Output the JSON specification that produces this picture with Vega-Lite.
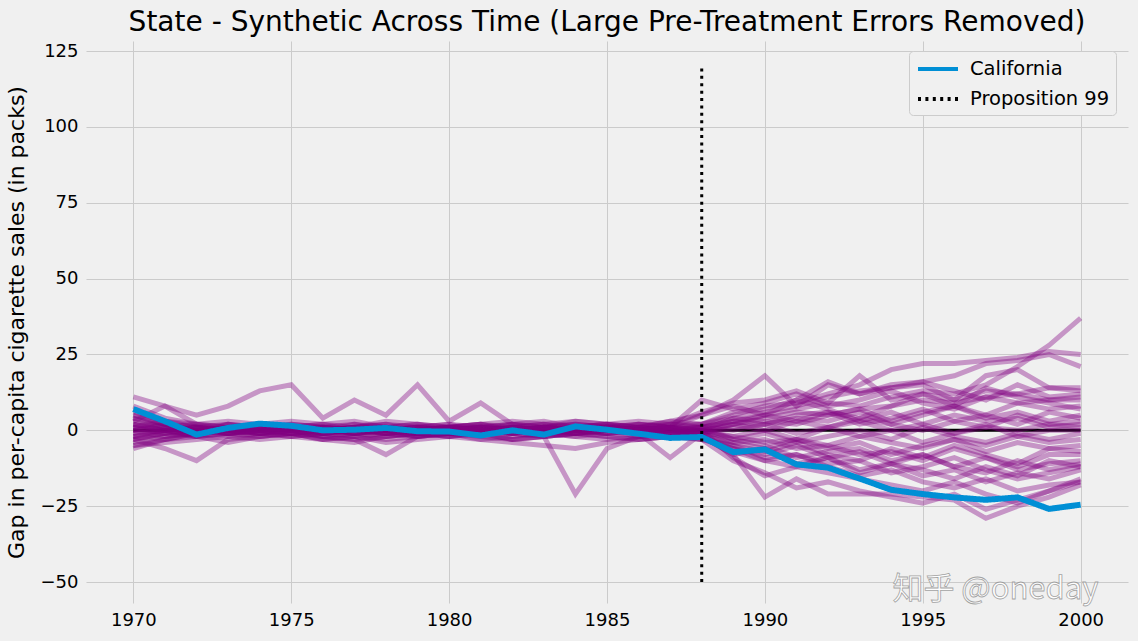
{
"$schema":"https://vega.github.io/schema/vega-lite/v6.json",
"width":1042,"height":562,
"autosize":{"type":"none"},
"padding":{"left":86,"top":41,"right":10,"bottom":38},
"background":"#f0f0f0",
"config":{"view":{"stroke":null},"font":"DejaVu Sans",
"axis":{"domain":false,"ticks":false,"gridColor":"#cbcbcb","gridWidth":1,"labelFont":"DejaVu Sans","labelFontSize":18,"labelColor":"#000000","labelPadding":8,"titleFont":"DejaVu Sans","titleFontSize":22,"titleFontWeight":"normal","titleColor":"#000000"},
"legend":{"orient":"none","legendX":823,"legendY":10,"fillColor":"#f0f0f0","strokeColor":"#cccccc","padding":6,"cornerRadius":4,"labelFont":"DejaVu Sans","labelFontSize":19.5,"labelColor":"#000000","symbolType":"M-0.9,0H3.1","symbolSize":400,"symbolStrokeWidth":4,"rowPadding":8,"labelOffset":31}},
"title":{"text":"State - Synthetic Across Time (Large Pre-Treatment Errors Removed)","font":"DejaVu Sans","fontSize":28,"fontWeight":"normal","color":"#000000","anchor":"middle","offset":4},
"datasets":{
"ca":[
{"lab":"California","t":1970,"g":7},{"lab":"California","t":1971,"g":3},{"lab":"California","t":1972,"g":-1.4},{"lab":"California","t":1973,"g":0.8},{"lab":"California","t":1974,"g":2.2},{"lab":"California","t":1975,"g":1.5},{"lab":"California","t":1976,"g":0},{"lab":"California","t":1977,"g":0.2},{"lab":"California","t":1978,"g":0.8},{"lab":"California","t":1979,"g":-0.3},{"lab":"California","t":1980,"g":-0.4},{"lab":"California","t":1981,"g":-1.7},{"lab":"California","t":1982,"g":0},{"lab":"California","t":1983,"g":-1.4},{"lab":"California","t":1984,"g":1.3},{"lab":"California","t":1985,"g":0.2},{"lab":"California","t":1986,"g":-1.1},{"lab":"California","t":1987,"g":-2.5},{"lab":"California","t":1988,"g":-2.2},{"lab":"California","t":1989,"g":-7.2},{"lab":"California","t":1990,"g":-6.3},{"lab":"California","t":1991,"g":-11.2},{"lab":"California","t":1992,"g":-12.3},{"lab":"California","t":1993,"g":-15.9},{"lab":"California","t":1994,"g":-19.6},{"lab":"California","t":1995,"g":-21},{"lab":"California","t":1996,"g":-22.1},{"lab":"California","t":1997,"g":-22.9},{"lab":"California","t":1998,"g":-22.1},{"lab":"California","t":1999,"g":-25.9},{"lab":"California","t":2000,"g":-24.5}
],
"pl":[
{"u":1,"t":1970,"g":3},{"u":1,"t":1971,"g":1},{"u":1,"t":1972,"g":-1},{"u":1,"t":1973,"g":2},{"u":1,"t":1974,"g":1},{"u":1,"t":1975,"g":0},{"u":1,"t":1976,"g":1},{"u":1,"t":1977,"g":-1},{"u":1,"t":1978,"g":0},{"u":1,"t":1979,"g":1},{"u":1,"t":1980,"g":0},{"u":1,"t":1981,"g":-1},{"u":1,"t":1982,"g":1},{"u":1,"t":1983,"g":0},{"u":1,"t":1984,"g":1},{"u":1,"t":1985,"g":2},{"u":1,"t":1986,"g":1},{"u":1,"t":1987,"g":0},{"u":1,"t":1988,"g":1},{"u":1,"t":1989,"g":3},{"u":1,"t":1990,"g":5},{"u":1,"t":1991,"g":7},{"u":1,"t":1992,"g":9},{"u":1,"t":1993,"g":8},{"u":1,"t":1994,"g":11},{"u":1,"t":1995,"g":13},{"u":1,"t":1996,"g":12},{"u":1,"t":1997,"g":15},{"u":1,"t":1998,"g":21},{"u":1,"t":1999,"g":28},{"u":1,"t":2000,"g":37},
{"u":2,"t":1970,"g":5},{"u":2,"t":1971,"g":2},{"u":2,"t":1972,"g":0},{"u":2,"t":1973,"g":1},{"u":2,"t":1974,"g":2},{"u":2,"t":1975,"g":1},{"u":2,"t":1976,"g":0},{"u":2,"t":1977,"g":1},{"u":2,"t":1978,"g":2},{"u":2,"t":1979,"g":0},{"u":2,"t":1980,"g":1},{"u":2,"t":1981,"g":2},{"u":2,"t":1982,"g":1},{"u":2,"t":1983,"g":2},{"u":2,"t":1984,"g":1},{"u":2,"t":1985,"g":0},{"u":2,"t":1986,"g":1},{"u":2,"t":1987,"g":2},{"u":2,"t":1988,"g":2},{"u":2,"t":1989,"g":5},{"u":2,"t":1990,"g":8},{"u":2,"t":1991,"g":9},{"u":2,"t":1992,"g":12},{"u":2,"t":1993,"g":15},{"u":2,"t":1994,"g":20},{"u":2,"t":1995,"g":22},{"u":2,"t":1996,"g":22},{"u":2,"t":1997,"g":23},{"u":2,"t":1998,"g":24},{"u":2,"t":1999,"g":26},{"u":2,"t":2000,"g":25},
{"u":3,"t":1970,"g":-2},{"u":3,"t":1971,"g":-1},{"u":3,"t":1972,"g":1},{"u":3,"t":1973,"g":0},{"u":3,"t":1974,"g":-1},{"u":3,"t":1975,"g":1},{"u":3,"t":1976,"g":2},{"u":3,"t":1977,"g":0},{"u":3,"t":1978,"g":-1},{"u":3,"t":1979,"g":0},{"u":3,"t":1980,"g":1},{"u":3,"t":1981,"g":0},{"u":3,"t":1982,"g":-1},{"u":3,"t":1983,"g":1},{"u":3,"t":1984,"g":0},{"u":3,"t":1985,"g":1},{"u":3,"t":1986,"g":0},{"u":3,"t":1987,"g":1},{"u":3,"t":1988,"g":0},{"u":3,"t":1989,"g":4},{"u":3,"t":1990,"g":6},{"u":3,"t":1991,"g":8},{"u":3,"t":1992,"g":11},{"u":3,"t":1993,"g":13},{"u":3,"t":1994,"g":14},{"u":3,"t":1995,"g":16},{"u":3,"t":1996,"g":18},{"u":3,"t":1997,"g":22},{"u":3,"t":1998,"g":23},{"u":3,"t":1999,"g":25},{"u":3,"t":2000,"g":21},
{"u":4,"t":1970,"g":8},{"u":4,"t":1971,"g":4},{"u":4,"t":1972,"g":2},{"u":4,"t":1973,"g":3},{"u":4,"t":1974,"g":2},{"u":4,"t":1975,"g":3},{"u":4,"t":1976,"g":2},{"u":4,"t":1977,"g":1},{"u":4,"t":1978,"g":3},{"u":4,"t":1979,"g":2},{"u":4,"t":1980,"g":1},{"u":4,"t":1981,"g":2},{"u":4,"t":1982,"g":3},{"u":4,"t":1983,"g":2},{"u":4,"t":1984,"g":3},{"u":4,"t":1985,"g":2},{"u":4,"t":1986,"g":1},{"u":4,"t":1987,"g":3},{"u":4,"t":1988,"g":5},{"u":4,"t":1989,"g":10},{"u":4,"t":1990,"g":18},{"u":4,"t":1991,"g":8},{"u":4,"t":1992,"g":15},{"u":4,"t":1993,"g":12},{"u":4,"t":1994,"g":14},{"u":4,"t":1995,"g":15},{"u":4,"t":1996,"g":10},{"u":4,"t":1997,"g":13},{"u":4,"t":1998,"g":12},{"u":4,"t":1999,"g":14},{"u":4,"t":2000,"g":14},
{"u":5,"t":1970,"g":1},{"u":5,"t":1971,"g":0},{"u":5,"t":1972,"g":-2},{"u":5,"t":1973,"g":1},{"u":5,"t":1974,"g":0},{"u":5,"t":1975,"g":-1},{"u":5,"t":1976,"g":0},{"u":5,"t":1977,"g":1},{"u":5,"t":1978,"g":-1},{"u":5,"t":1979,"g":0},{"u":5,"t":1980,"g":0},{"u":5,"t":1981,"g":1},{"u":5,"t":1982,"g":0},{"u":5,"t":1983,"g":-1},{"u":5,"t":1984,"g":1},{"u":5,"t":1985,"g":0},{"u":5,"t":1986,"g":-1},{"u":5,"t":1987,"g":0},{"u":5,"t":1988,"g":-1},{"u":5,"t":1989,"g":2},{"u":5,"t":1990,"g":4},{"u":5,"t":1991,"g":6},{"u":5,"t":1992,"g":5},{"u":5,"t":1993,"g":7},{"u":5,"t":1994,"g":8},{"u":5,"t":1995,"g":12},{"u":5,"t":1996,"g":10},{"u":5,"t":1997,"g":18},{"u":5,"t":1998,"g":20},{"u":5,"t":1999,"g":14},{"u":5,"t":2000,"g":13},
{"u":6,"t":1970,"g":11},{"u":6,"t":1971,"g":8},{"u":6,"t":1972,"g":5},{"u":6,"t":1973,"g":8},{"u":6,"t":1974,"g":13},{"u":6,"t":1975,"g":15},{"u":6,"t":1976,"g":4},{"u":6,"t":1977,"g":10},{"u":6,"t":1978,"g":5},{"u":6,"t":1979,"g":15},{"u":6,"t":1980,"g":3},{"u":6,"t":1981,"g":9},{"u":6,"t":1982,"g":2},{"u":6,"t":1983,"g":1},{"u":6,"t":1984,"g":3},{"u":6,"t":1985,"g":2},{"u":6,"t":1986,"g":1},{"u":6,"t":1987,"g":3},{"u":6,"t":1988,"g":2},{"u":6,"t":1989,"g":6},{"u":6,"t":1990,"g":7},{"u":6,"t":1991,"g":10},{"u":6,"t":1992,"g":16},{"u":6,"t":1993,"g":12},{"u":6,"t":1994,"g":15},{"u":6,"t":1995,"g":16},{"u":6,"t":1996,"g":13},{"u":6,"t":1997,"g":10},{"u":6,"t":1998,"g":15},{"u":6,"t":1999,"g":11},{"u":6,"t":2000,"g":12},
{"u":7,"t":1970,"g":-3},{"u":7,"t":1971,"g":-1},{"u":7,"t":1972,"g":0},{"u":7,"t":1973,"g":-1},{"u":7,"t":1974,"g":0},{"u":7,"t":1975,"g":1},{"u":7,"t":1976,"g":-1},{"u":7,"t":1977,"g":0},{"u":7,"t":1978,"g":1},{"u":7,"t":1979,"g":0},{"u":7,"t":1980,"g":-1},{"u":7,"t":1981,"g":0},{"u":7,"t":1982,"g":1},{"u":7,"t":1983,"g":2},{"u":7,"t":1984,"g":0},{"u":7,"t":1985,"g":-1},{"u":7,"t":1986,"g":0},{"u":7,"t":1987,"g":-1},{"u":7,"t":1988,"g":1},{"u":7,"t":1989,"g":3},{"u":7,"t":1990,"g":2},{"u":7,"t":1991,"g":5},{"u":7,"t":1992,"g":6},{"u":7,"t":1993,"g":4},{"u":7,"t":1994,"g":8},{"u":7,"t":1995,"g":10},{"u":7,"t":1996,"g":9},{"u":7,"t":1997,"g":11},{"u":7,"t":1998,"g":12},{"u":7,"t":1999,"g":10},{"u":7,"t":2000,"g":11},
{"u":8,"t":1970,"g":4},{"u":8,"t":1971,"g":1},{"u":8,"t":1972,"g":2},{"u":8,"t":1973,"g":0},{"u":8,"t":1974,"g":1},{"u":8,"t":1975,"g":2},{"u":8,"t":1976,"g":1},{"u":8,"t":1977,"g":2},{"u":8,"t":1978,"g":0},{"u":8,"t":1979,"g":1},{"u":8,"t":1980,"g":2},{"u":8,"t":1981,"g":1},{"u":8,"t":1982,"g":0},{"u":8,"t":1983,"g":1},{"u":8,"t":1984,"g":2},{"u":8,"t":1985,"g":1},{"u":8,"t":1986,"g":2},{"u":8,"t":1987,"g":1},{"u":8,"t":1988,"g":10},{"u":8,"t":1989,"g":7},{"u":8,"t":1990,"g":9},{"u":8,"t":1991,"g":12},{"u":8,"t":1992,"g":8},{"u":8,"t":1993,"g":10},{"u":8,"t":1994,"g":13},{"u":8,"t":1995,"g":9},{"u":8,"t":1996,"g":7},{"u":8,"t":1997,"g":11},{"u":8,"t":1998,"g":9},{"u":8,"t":1999,"g":10},{"u":8,"t":2000,"g":10},
{"u":9,"t":1970,"g":0},{"u":9,"t":1971,"g":2},{"u":9,"t":1972,"g":1},{"u":9,"t":1973,"g":-1},{"u":9,"t":1974,"g":0},{"u":9,"t":1975,"g":2},{"u":9,"t":1976,"g":1},{"u":9,"t":1977,"g":0},{"u":9,"t":1978,"g":1},{"u":9,"t":1979,"g":-1},{"u":9,"t":1980,"g":0},{"u":9,"t":1981,"g":1},{"u":9,"t":1982,"g":2},{"u":9,"t":1983,"g":0},{"u":9,"t":1984,"g":1},{"u":9,"t":1985,"g":2},{"u":9,"t":1986,"g":0},{"u":9,"t":1987,"g":1},{"u":9,"t":1988,"g":2},{"u":9,"t":1989,"g":4},{"u":9,"t":1990,"g":3},{"u":9,"t":1991,"g":2},{"u":9,"t":1992,"g":5},{"u":9,"t":1993,"g":7},{"u":9,"t":1994,"g":3},{"u":9,"t":1995,"g":6},{"u":9,"t":1996,"g":8},{"u":9,"t":1997,"g":5},{"u":9,"t":1998,"g":9},{"u":9,"t":1999,"g":7},{"u":9,"t":2000,"g":8},
{"u":10,"t":1970,"g":6},{"u":10,"t":1971,"g":3},{"u":10,"t":1972,"g":1},{"u":10,"t":1973,"g":2},{"u":10,"t":1974,"g":0},{"u":10,"t":1975,"g":1},{"u":10,"t":1976,"g":2},{"u":10,"t":1977,"g":3},{"u":10,"t":1978,"g":1},{"u":10,"t":1979,"g":2},{"u":10,"t":1980,"g":0},{"u":10,"t":1981,"g":1},{"u":10,"t":1982,"g":2},{"u":10,"t":1983,"g":3},{"u":10,"t":1984,"g":1},{"u":10,"t":1985,"g":2},{"u":10,"t":1986,"g":3},{"u":10,"t":1987,"g":2},{"u":10,"t":1988,"g":6},{"u":10,"t":1989,"g":9},{"u":10,"t":1990,"g":10},{"u":10,"t":1991,"g":13},{"u":10,"t":1992,"g":9},{"u":10,"t":1993,"g":18},{"u":10,"t":1994,"g":10},{"u":10,"t":1995,"g":12},{"u":10,"t":1996,"g":8},{"u":10,"t":1997,"g":14},{"u":10,"t":1998,"g":11},{"u":10,"t":1999,"g":9},{"u":10,"t":2000,"g":7},
{"u":11,"t":1970,"g":-4},{"u":11,"t":1971,"g":-2},{"u":11,"t":1972,"g":-1},{"u":11,"t":1973,"g":0},{"u":11,"t":1974,"g":-1},{"u":11,"t":1975,"g":-2},{"u":11,"t":1976,"g":-1},{"u":11,"t":1977,"g":0},{"u":11,"t":1978,"g":-1},{"u":11,"t":1979,"g":-2},{"u":11,"t":1980,"g":0},{"u":11,"t":1981,"g":-1},{"u":11,"t":1982,"g":0},{"u":11,"t":1983,"g":-1},{"u":11,"t":1984,"g":-2},{"u":11,"t":1985,"g":-1},{"u":11,"t":1986,"g":0},{"u":11,"t":1987,"g":-1},{"u":11,"t":1988,"g":-1},{"u":11,"t":1989,"g":1},{"u":11,"t":1990,"g":2},{"u":11,"t":1991,"g":4},{"u":11,"t":1992,"g":3},{"u":11,"t":1993,"g":6},{"u":11,"t":1994,"g":2},{"u":11,"t":1995,"g":5},{"u":11,"t":1996,"g":8},{"u":11,"t":1997,"g":4},{"u":11,"t":1998,"g":6},{"u":11,"t":1999,"g":3},{"u":11,"t":2000,"g":5},
{"u":12,"t":1970,"g":2},{"u":12,"t":1971,"g":0},{"u":12,"t":1972,"g":1},{"u":12,"t":1973,"g":0},{"u":12,"t":1974,"g":2},{"u":12,"t":1975,"g":1},{"u":12,"t":1976,"g":0},{"u":12,"t":1977,"g":-1},{"u":12,"t":1978,"g":0},{"u":12,"t":1979,"g":1},{"u":12,"t":1980,"g":2},{"u":12,"t":1981,"g":0},{"u":12,"t":1982,"g":1},{"u":12,"t":1983,"g":0},{"u":12,"t":1984,"g":-1},{"u":12,"t":1985,"g":0},{"u":12,"t":1986,"g":1},{"u":12,"t":1987,"g":0},{"u":12,"t":1988,"g":1},{"u":12,"t":1989,"g":2},{"u":12,"t":1990,"g":5},{"u":12,"t":1991,"g":3},{"u":12,"t":1992,"g":6},{"u":12,"t":1993,"g":2},{"u":12,"t":1994,"g":4},{"u":12,"t":1995,"g":7},{"u":12,"t":1996,"g":3},{"u":12,"t":1997,"g":5},{"u":12,"t":1998,"g":2},{"u":12,"t":1999,"g":6},{"u":12,"t":2000,"g":4},
{"u":13,"t":1970,"g":-1},{"u":13,"t":1971,"g":0},{"u":13,"t":1972,"g":-2},{"u":13,"t":1973,"g":-1},{"u":13,"t":1974,"g":0},{"u":13,"t":1975,"g":1},{"u":13,"t":1976,"g":0},{"u":13,"t":1977,"g":-1},{"u":13,"t":1978,"g":0},{"u":13,"t":1979,"g":-2},{"u":13,"t":1980,"g":-1},{"u":13,"t":1981,"g":0},{"u":13,"t":1982,"g":-1},{"u":13,"t":1983,"g":1},{"u":13,"t":1984,"g":0},{"u":13,"t":1985,"g":-1},{"u":13,"t":1986,"g":0},{"u":13,"t":1987,"g":1},{"u":13,"t":1988,"g":0},{"u":13,"t":1989,"g":2},{"u":13,"t":1990,"g":0},{"u":13,"t":1991,"g":3},{"u":13,"t":1992,"g":1},{"u":13,"t":1993,"g":4},{"u":13,"t":1994,"g":2},{"u":13,"t":1995,"g":0},{"u":13,"t":1996,"g":3},{"u":13,"t":1997,"g":1},{"u":13,"t":1998,"g":5},{"u":13,"t":1999,"g":2},{"u":13,"t":2000,"g":3},
{"u":14,"t":1970,"g":3},{"u":14,"t":1971,"g":8},{"u":14,"t":1972,"g":2},{"u":14,"t":1973,"g":1},{"u":14,"t":1974,"g":0},{"u":14,"t":1975,"g":1},{"u":14,"t":1976,"g":0},{"u":14,"t":1977,"g":2},{"u":14,"t":1978,"g":1},{"u":14,"t":1979,"g":0},{"u":14,"t":1980,"g":1},{"u":14,"t":1981,"g":0},{"u":14,"t":1982,"g":2},{"u":14,"t":1983,"g":1},{"u":14,"t":1984,"g":0},{"u":14,"t":1985,"g":1},{"u":14,"t":1986,"g":2},{"u":14,"t":1987,"g":1},{"u":14,"t":1988,"g":5},{"u":14,"t":1989,"g":8},{"u":14,"t":1990,"g":5},{"u":14,"t":1991,"g":10},{"u":14,"t":1992,"g":7},{"u":14,"t":1993,"g":3},{"u":14,"t":1994,"g":6},{"u":14,"t":1995,"g":2},{"u":14,"t":1996,"g":5},{"u":14,"t":1997,"g":3},{"u":14,"t":1998,"g":4},{"u":14,"t":1999,"g":1},{"u":14,"t":2000,"g":2},
{"u":15,"t":1970,"g":0},{"u":15,"t":1971,"g":1},{"u":15,"t":1972,"g":0},{"u":15,"t":1973,"g":2},{"u":15,"t":1974,"g":1},{"u":15,"t":1975,"g":0},{"u":15,"t":1976,"g":1},{"u":15,"t":1977,"g":0},{"u":15,"t":1978,"g":-1},{"u":15,"t":1979,"g":0},{"u":15,"t":1980,"g":1},{"u":15,"t":1981,"g":2},{"u":15,"t":1982,"g":0},{"u":15,"t":1983,"g":1},{"u":15,"t":1984,"g":0},{"u":15,"t":1985,"g":1},{"u":15,"t":1986,"g":0},{"u":15,"t":1987,"g":2},{"u":15,"t":1988,"g":1},{"u":15,"t":1989,"g":0},{"u":15,"t":1990,"g":2},{"u":15,"t":1991,"g":-1},{"u":15,"t":1992,"g":1},{"u":15,"t":1993,"g":3},{"u":15,"t":1994,"g":0},{"u":15,"t":1995,"g":2},{"u":15,"t":1996,"g":-1},{"u":15,"t":1997,"g":1},{"u":15,"t":1998,"g":0},{"u":15,"t":1999,"g":2},{"u":15,"t":2000,"g":1},
{"u":16,"t":1970,"g":-2},{"u":16,"t":1971,"g":-3},{"u":16,"t":1972,"g":-1},{"u":16,"t":1973,"g":0},{"u":16,"t":1974,"g":-1},{"u":16,"t":1975,"g":0},{"u":16,"t":1976,"g":-2},{"u":16,"t":1977,"g":-1},{"u":16,"t":1978,"g":0},{"u":16,"t":1979,"g":-1},{"u":16,"t":1980,"g":-2},{"u":16,"t":1981,"g":0},{"u":16,"t":1982,"g":-1},{"u":16,"t":1983,"g":-2},{"u":16,"t":1984,"g":-1},{"u":16,"t":1985,"g":0},{"u":16,"t":1986,"g":-1},{"u":16,"t":1987,"g":0},{"u":16,"t":1988,"g":-1},{"u":16,"t":1989,"g":-2},{"u":16,"t":1990,"g":0},{"u":16,"t":1991,"g":-3},{"u":16,"t":1992,"g":1},{"u":16,"t":1993,"g":-2},{"u":16,"t":1994,"g":0},{"u":16,"t":1995,"g":-4},{"u":16,"t":1996,"g":-1},{"u":16,"t":1997,"g":2},{"u":16,"t":1998,"g":-2},{"u":16,"t":1999,"g":0},{"u":16,"t":2000,"g":0},
{"u":17,"t":1970,"g":1},{"u":17,"t":1971,"g":-1},{"u":17,"t":1972,"g":0},{"u":17,"t":1973,"g":-1},{"u":17,"t":1974,"g":0},{"u":17,"t":1975,"g":-1},{"u":17,"t":1976,"g":0},{"u":17,"t":1977,"g":1},{"u":17,"t":1978,"g":0},{"u":17,"t":1979,"g":-1},{"u":17,"t":1980,"g":0},{"u":17,"t":1981,"g":1},{"u":17,"t":1982,"g":0},{"u":17,"t":1983,"g":-1},{"u":17,"t":1984,"g":0},{"u":17,"t":1985,"g":1},{"u":17,"t":1986,"g":0},{"u":17,"t":1987,"g":-1},{"u":17,"t":1988,"g":0},{"u":17,"t":1989,"g":-3},{"u":17,"t":1990,"g":-1},{"u":17,"t":1991,"g":-4},{"u":17,"t":1992,"g":-2},{"u":17,"t":1993,"g":0},{"u":17,"t":1994,"g":-3},{"u":17,"t":1995,"g":1},{"u":17,"t":1996,"g":-2},{"u":17,"t":1997,"g":-4},{"u":17,"t":1998,"g":-1},{"u":17,"t":1999,"g":-3},{"u":17,"t":2000,"g":-1},
{"u":18,"t":1970,"g":-5},{"u":18,"t":1971,"g":-3},{"u":18,"t":1972,"g":-2},{"u":18,"t":1973,"g":-1},{"u":18,"t":1974,"g":-2},{"u":18,"t":1975,"g":-1},{"u":18,"t":1976,"g":-3},{"u":18,"t":1977,"g":-2},{"u":18,"t":1978,"g":-1},{"u":18,"t":1979,"g":-2},{"u":18,"t":1980,"g":-1},{"u":18,"t":1981,"g":-3},{"u":18,"t":1982,"g":-2},{"u":18,"t":1983,"g":-1},{"u":18,"t":1984,"g":-2},{"u":18,"t":1985,"g":-3},{"u":18,"t":1986,"g":-2},{"u":18,"t":1987,"g":-1},{"u":18,"t":1988,"g":-2},{"u":18,"t":1989,"g":-4},{"u":18,"t":1990,"g":-6},{"u":18,"t":1991,"g":-3},{"u":18,"t":1992,"g":-5},{"u":18,"t":1993,"g":-2},{"u":18,"t":1994,"g":-4},{"u":18,"t":1995,"g":-6},{"u":18,"t":1996,"g":-3},{"u":18,"t":1997,"g":-5},{"u":18,"t":1998,"g":-2},{"u":18,"t":1999,"g":-4},{"u":18,"t":2000,"g":-3},
{"u":19,"t":1970,"g":2},{"u":19,"t":1971,"g":1},{"u":19,"t":1972,"g":-1},{"u":19,"t":1973,"g":0},{"u":19,"t":1974,"g":1},{"u":19,"t":1975,"g":0},{"u":19,"t":1976,"g":-1},{"u":19,"t":1977,"g":0},{"u":19,"t":1978,"g":1},{"u":19,"t":1979,"g":0},{"u":19,"t":1980,"g":-1},{"u":19,"t":1981,"g":0},{"u":19,"t":1982,"g":1},{"u":19,"t":1983,"g":0},{"u":19,"t":1984,"g":-1},{"u":19,"t":1985,"g":0},{"u":19,"t":1986,"g":1},{"u":19,"t":1987,"g":0},{"u":19,"t":1988,"g":0},{"u":19,"t":1989,"g":-2},{"u":19,"t":1990,"g":-4},{"u":19,"t":1991,"g":-3},{"u":19,"t":1992,"g":-6},{"u":19,"t":1993,"g":-4},{"u":19,"t":1994,"g":-8},{"u":19,"t":1995,"g":-5},{"u":19,"t":1996,"g":-3},{"u":19,"t":1997,"g":-7},{"u":19,"t":1998,"g":-4},{"u":19,"t":1999,"g":-6},{"u":19,"t":2000,"g":-5},
{"u":20,"t":1970,"g":-6},{"u":20,"t":1971,"g":-3},{"u":20,"t":1972,"g":-1},{"u":20,"t":1973,"g":-2},{"u":20,"t":1974,"g":-3},{"u":20,"t":1975,"g":-2},{"u":20,"t":1976,"g":-1},{"u":20,"t":1977,"g":-2},{"u":20,"t":1978,"g":-3},{"u":20,"t":1979,"g":-2},{"u":20,"t":1980,"g":-1},{"u":20,"t":1981,"g":-2},{"u":20,"t":1982,"g":-3},{"u":20,"t":1983,"g":-2},{"u":20,"t":1984,"g":-1},{"u":20,"t":1985,"g":-2},{"u":20,"t":1986,"g":-3},{"u":20,"t":1987,"g":-2},{"u":20,"t":1988,"g":-3},{"u":20,"t":1989,"g":-5},{"u":20,"t":1990,"g":-7},{"u":20,"t":1991,"g":-4},{"u":20,"t":1992,"g":-8},{"u":20,"t":1993,"g":-10},{"u":20,"t":1994,"g":-6},{"u":20,"t":1995,"g":-9},{"u":20,"t":1996,"g":-5},{"u":20,"t":1997,"g":-8},{"u":20,"t":1998,"g":-11},{"u":20,"t":1999,"g":-6},{"u":20,"t":2000,"g":-7},
{"u":21,"t":1970,"g":5},{"u":21,"t":1971,"g":2},{"u":21,"t":1972,"g":0},{"u":21,"t":1973,"g":1},{"u":21,"t":1974,"g":2},{"u":21,"t":1975,"g":1},{"u":21,"t":1976,"g":0},{"u":21,"t":1977,"g":1},{"u":21,"t":1978,"g":2},{"u":21,"t":1979,"g":1},{"u":21,"t":1980,"g":0},{"u":21,"t":1981,"g":1},{"u":21,"t":1982,"g":0},{"u":21,"t":1983,"g":1},{"u":21,"t":1984,"g":2},{"u":21,"t":1985,"g":1},{"u":21,"t":1986,"g":0},{"u":21,"t":1987,"g":1},{"u":21,"t":1988,"g":-1},{"u":21,"t":1989,"g":-4},{"u":21,"t":1990,"g":-3},{"u":21,"t":1991,"g":-6},{"u":21,"t":1992,"g":-5},{"u":21,"t":1993,"g":-8},{"u":21,"t":1994,"g":-7},{"u":21,"t":1995,"g":-10},{"u":21,"t":1996,"g":-6},{"u":21,"t":1997,"g":-9},{"u":21,"t":1998,"g":-12},{"u":21,"t":1999,"g":-8},{"u":21,"t":2000,"g":-8},
{"u":22,"t":1970,"g":-3},{"u":22,"t":1971,"g":-1},{"u":22,"t":1972,"g":-2},{"u":22,"t":1973,"g":-4},{"u":22,"t":1974,"g":-2},{"u":22,"t":1975,"g":-1},{"u":22,"t":1976,"g":-2},{"u":22,"t":1977,"g":-3},{"u":22,"t":1978,"g":-2},{"u":22,"t":1979,"g":-1},{"u":22,"t":1980,"g":-2},{"u":22,"t":1981,"g":-1},{"u":22,"t":1982,"g":-3},{"u":22,"t":1983,"g":-2},{"u":22,"t":1984,"g":-1},{"u":22,"t":1985,"g":-2},{"u":22,"t":1986,"g":-3},{"u":22,"t":1987,"g":-2},{"u":22,"t":1988,"g":-2},{"u":22,"t":1989,"g":-6},{"u":22,"t":1990,"g":-8},{"u":22,"t":1991,"g":-5},{"u":22,"t":1992,"g":-9},{"u":22,"t":1993,"g":-7},{"u":22,"t":1994,"g":-11},{"u":22,"t":1995,"g":-8},{"u":22,"t":1996,"g":-12},{"u":22,"t":1997,"g":-9},{"u":22,"t":1998,"g":-13},{"u":22,"t":1999,"g":-11},{"u":22,"t":2000,"g":-10},
{"u":23,"t":1970,"g":1},{"u":23,"t":1971,"g":3},{"u":23,"t":1972,"g":2},{"u":23,"t":1973,"g":1},{"u":23,"t":1974,"g":0},{"u":23,"t":1975,"g":1},{"u":23,"t":1976,"g":-1},{"u":23,"t":1977,"g":0},{"u":23,"t":1978,"g":1},{"u":23,"t":1979,"g":2},{"u":23,"t":1980,"g":1},{"u":23,"t":1981,"g":0},{"u":23,"t":1982,"g":-1},{"u":23,"t":1983,"g":0},{"u":23,"t":1984,"g":1},{"u":23,"t":1985,"g":0},{"u":23,"t":1986,"g":2},{"u":23,"t":1987,"g":1},{"u":23,"t":1988,"g":1},{"u":23,"t":1989,"g":-3},{"u":23,"t":1990,"g":-5},{"u":23,"t":1991,"g":-9},{"u":23,"t":1992,"g":-7},{"u":23,"t":1993,"g":-6},{"u":23,"t":1994,"g":-10},{"u":23,"t":1995,"g":-8},{"u":23,"t":1996,"g":-12},{"u":23,"t":1997,"g":-14},{"u":23,"t":1998,"g":-10},{"u":23,"t":1999,"g":-13},{"u":23,"t":2000,"g":-11},
{"u":24,"t":1970,"g":-2},{"u":24,"t":1971,"g":0},{"u":24,"t":1972,"g":1},{"u":24,"t":1973,"g":-1},{"u":24,"t":1974,"g":0},{"u":24,"t":1975,"g":-1},{"u":24,"t":1976,"g":0},{"u":24,"t":1977,"g":-1},{"u":24,"t":1978,"g":-2},{"u":24,"t":1979,"g":-1},{"u":24,"t":1980,"g":0},{"u":24,"t":1981,"g":-1},{"u":24,"t":1982,"g":0},{"u":24,"t":1983,"g":1},{"u":24,"t":1984,"g":-1},{"u":24,"t":1985,"g":0},{"u":24,"t":1986,"g":-2},{"u":24,"t":1987,"g":-1},{"u":24,"t":1988,"g":-2},{"u":24,"t":1989,"g":-7},{"u":24,"t":1990,"g":-10},{"u":24,"t":1991,"g":-12},{"u":24,"t":1992,"g":-9},{"u":24,"t":1993,"g":-14},{"u":24,"t":1994,"g":-11},{"u":24,"t":1995,"g":-13},{"u":24,"t":1996,"g":-16},{"u":24,"t":1997,"g":-12},{"u":24,"t":1998,"g":-15},{"u":24,"t":1999,"g":-10},{"u":24,"t":2000,"g":-12},
{"u":25,"t":1970,"g":0},{"u":25,"t":1971,"g":-2},{"u":25,"t":1972,"g":-1},{"u":25,"t":1973,"g":0},{"u":25,"t":1974,"g":-1},{"u":25,"t":1975,"g":0},{"u":25,"t":1976,"g":-2},{"u":25,"t":1977,"g":-3},{"u":25,"t":1978,"g":-8},{"u":25,"t":1979,"g":-2},{"u":25,"t":1980,"g":-1},{"u":25,"t":1981,"g":0},{"u":25,"t":1982,"g":-1},{"u":25,"t":1983,"g":-2},{"u":25,"t":1984,"g":-1},{"u":25,"t":1985,"g":0},{"u":25,"t":1986,"g":-1},{"u":25,"t":1987,"g":-9},{"u":25,"t":1988,"g":-1},{"u":25,"t":1989,"g":-5},{"u":25,"t":1990,"g":-9},{"u":25,"t":1991,"g":-8},{"u":25,"t":1992,"g":-11},{"u":25,"t":1993,"g":-10},{"u":25,"t":1994,"g":-14},{"u":25,"t":1995,"g":-12},{"u":25,"t":1996,"g":-9},{"u":25,"t":1997,"g":-13},{"u":25,"t":1998,"g":-16},{"u":25,"t":1999,"g":-14},{"u":25,"t":2000,"g":-12},
{"u":26,"t":1970,"g":4},{"u":26,"t":1971,"g":2},{"u":26,"t":1972,"g":0},{"u":26,"t":1973,"g":-1},{"u":26,"t":1974,"g":0},{"u":26,"t":1975,"g":1},{"u":26,"t":1976,"g":0},{"u":26,"t":1977,"g":-1},{"u":26,"t":1978,"g":0},{"u":26,"t":1979,"g":1},{"u":26,"t":1980,"g":0},{"u":26,"t":1981,"g":-1},{"u":26,"t":1982,"g":0},{"u":26,"t":1983,"g":1},{"u":26,"t":1984,"g":0},{"u":26,"t":1985,"g":-1},{"u":26,"t":1986,"g":0},{"u":26,"t":1987,"g":1},{"u":26,"t":1988,"g":-2},{"u":26,"t":1989,"g":-8},{"u":26,"t":1990,"g":-6},{"u":26,"t":1991,"g":-11},{"u":26,"t":1992,"g":-9},{"u":26,"t":1993,"g":-13},{"u":26,"t":1994,"g":-11},{"u":26,"t":1995,"g":-15},{"u":26,"t":1996,"g":-13},{"u":26,"t":1997,"g":-17},{"u":26,"t":1998,"g":-14},{"u":26,"t":1999,"g":-16},{"u":26,"t":2000,"g":-13},
{"u":27,"t":1970,"g":-5},{"u":27,"t":1971,"g":-4},{"u":27,"t":1972,"g":-3},{"u":27,"t":1973,"g":-2},{"u":27,"t":1974,"g":-1},{"u":27,"t":1975,"g":-2},{"u":27,"t":1976,"g":-3},{"u":27,"t":1977,"g":-2},{"u":27,"t":1978,"g":-4},{"u":27,"t":1979,"g":-3},{"u":27,"t":1980,"g":-2},{"u":27,"t":1981,"g":-3},{"u":27,"t":1982,"g":-4},{"u":27,"t":1983,"g":-5},{"u":27,"t":1984,"g":-6},{"u":27,"t":1985,"g":-4},{"u":27,"t":1986,"g":-3},{"u":27,"t":1987,"g":-2},{"u":27,"t":1988,"g":-3},{"u":27,"t":1989,"g":-6},{"u":27,"t":1990,"g":-10},{"u":27,"t":1991,"g":-8},{"u":27,"t":1992,"g":-12},{"u":27,"t":1993,"g":-15},{"u":27,"t":1994,"g":-13},{"u":27,"t":1995,"g":-17},{"u":27,"t":1996,"g":-19},{"u":27,"t":1997,"g":-16},{"u":27,"t":1998,"g":-20},{"u":27,"t":1999,"g":-18},{"u":27,"t":2000,"g":-17},
{"u":28,"t":1970,"g":2},{"u":28,"t":1971,"g":0},{"u":28,"t":1972,"g":-1},{"u":28,"t":1973,"g":0},{"u":28,"t":1974,"g":1},{"u":28,"t":1975,"g":0},{"u":28,"t":1976,"g":-1},{"u":28,"t":1977,"g":0},{"u":28,"t":1978,"g":1},{"u":28,"t":1979,"g":0},{"u":28,"t":1980,"g":1},{"u":28,"t":1981,"g":2},{"u":28,"t":1982,"g":0},{"u":28,"t":1983,"g":-1},{"u":28,"t":1984,"g":0},{"u":28,"t":1985,"g":1},{"u":28,"t":1986,"g":0},{"u":28,"t":1987,"g":-1},{"u":28,"t":1988,"g":0},{"u":28,"t":1989,"g":-9},{"u":28,"t":1990,"g":-15},{"u":28,"t":1991,"g":-12},{"u":28,"t":1992,"g":-14},{"u":28,"t":1993,"g":-16},{"u":28,"t":1994,"g":-18},{"u":28,"t":1995,"g":-20},{"u":28,"t":1996,"g":-17},{"u":28,"t":1997,"g":-21},{"u":28,"t":1998,"g":-24},{"u":28,"t":1999,"g":-20},{"u":28,"t":2000,"g":-16},
{"u":29,"t":1970,"g":-1},{"u":29,"t":1971,"g":0},{"u":29,"t":1972,"g":1},{"u":29,"t":1973,"g":0},{"u":29,"t":1974,"g":-1},{"u":29,"t":1975,"g":0},{"u":29,"t":1976,"g":1},{"u":29,"t":1977,"g":0},{"u":29,"t":1978,"g":-1},{"u":29,"t":1979,"g":0},{"u":29,"t":1980,"g":1},{"u":29,"t":1981,"g":0},{"u":29,"t":1982,"g":-1},{"u":29,"t":1983,"g":0},{"u":29,"t":1984,"g":1},{"u":29,"t":1985,"g":0},{"u":29,"t":1986,"g":-1},{"u":29,"t":1987,"g":0},{"u":29,"t":1988,"g":-2},{"u":29,"t":1989,"g":-8},{"u":29,"t":1990,"g":-22},{"u":29,"t":1991,"g":-16},{"u":29,"t":1992,"g":-21},{"u":29,"t":1993,"g":-21},{"u":29,"t":1994,"g":-21},{"u":29,"t":1995,"g":-22},{"u":29,"t":1996,"g":-23},{"u":29,"t":1997,"g":-29},{"u":29,"t":1998,"g":-25},{"u":29,"t":1999,"g":-22},{"u":29,"t":2000,"g":-18},
{"u":30,"t":1970,"g":-3},{"u":30,"t":1971,"g":-6},{"u":30,"t":1972,"g":-10},{"u":30,"t":1973,"g":-3},{"u":30,"t":1974,"g":-2},{"u":30,"t":1975,"g":-1},{"u":30,"t":1976,"g":-3},{"u":30,"t":1977,"g":-4},{"u":30,"t":1978,"g":-2},{"u":30,"t":1979,"g":-1},{"u":30,"t":1980,"g":-2},{"u":30,"t":1981,"g":-1},{"u":30,"t":1982,"g":-3},{"u":30,"t":1983,"g":-2},{"u":30,"t":1984,"g":-21},{"u":30,"t":1985,"g":-6},{"u":30,"t":1986,"g":-2},{"u":30,"t":1987,"g":-1},{"u":30,"t":1988,"g":-3},{"u":30,"t":1989,"g":-10},{"u":30,"t":1990,"g":-14},{"u":30,"t":1991,"g":-19},{"u":30,"t":1992,"g":-17},{"u":30,"t":1993,"g":-20},{"u":30,"t":1994,"g":-22},{"u":30,"t":1995,"g":-24},{"u":30,"t":1996,"g":-21},{"u":30,"t":1997,"g":-26},{"u":30,"t":1998,"g":-23},{"u":30,"t":1999,"g":-20},{"u":30,"t":2000,"g":-17}
]},
"layer":[
{"data":{"values":[{"t0":1970,"t1":2000,"g":0}]},
 "mark":{"type":"rule","color":"#000000","strokeWidth":3},
 "encoding":{
  "x":{"field":"t0","type":"quantitative","scale":{"domain":[1968.5,2001.5],"nice":false,"zero":false},"axis":{"values":[1970,1975,1980,1985,1990,1995,2000],"format":"d","title":null,"grid":true}},
  "x2":{"field":"t1"},
  "y":{"field":"g","type":"quantitative","scale":{"domain":[-56.9,128.3],"nice":false,"zero":false},"axis":{"values":[-50,-25,0,25,50,75,100,125],"format":"d","title":"Gap in per-capita cigarette sales (in packs)","titlePadding":12,"grid":true}}}},
{"data":{"name":"pl"},
 "mark":{"type":"line","color":"#800080","opacity":0.38,"strokeWidth":5},
 "encoding":{"x":{"field":"t","type":"quantitative"},"y":{"field":"g","type":"quantitative"},"detail":{"field":"u","type":"nominal"}}},
{"data":{"name":"ca"},
 "mark":{"type":"line","strokeWidth":6},
 "encoding":{"x":{"field":"t","type":"quantitative"},"y":{"field":"g","type":"quantitative"},
  "color":{"field":"lab","type":"nominal","scale":{"domain":["California","Proposition 99"],"range":["#008fd5","#000000"]},"legend":{"title":null}},
  "strokeDash":{"field":"lab","type":"nominal","scale":{"domain":["California","Proposition 99"],"range":[[1,0],[3,4.4]]},"legend":{"title":null}}}},
{"data":{"values":[{"lab":"Proposition 99","t":1988,"lo":-50,"hi":120}]},
 "mark":{"type":"rule","strokeWidth":3},
 "encoding":{"x":{"field":"t","type":"quantitative"},"y":{"field":"lo","type":"quantitative"},"y2":{"field":"hi"},
  "color":{"field":"lab","type":"nominal"},
  "strokeDash":{"field":"lab","type":"nominal"}}},
{"data":{"values":[{"t":1997.3,"g":-52.6,"w":"知乎 @oneday"}]},
 "mark":{"type":"text","font":"Noto Sans CJK SC","fontSize":31,"align":"center","baseline":"middle","color":"#ffffff","stroke":"#9a9a9a","strokeWidth":0.8,"opacity":0.9},
 "encoding":{"x":{"field":"t","type":"quantitative"},"y":{"field":"g","type":"quantitative"},"text":{"field":"w","type":"nominal"}}}
]
}
